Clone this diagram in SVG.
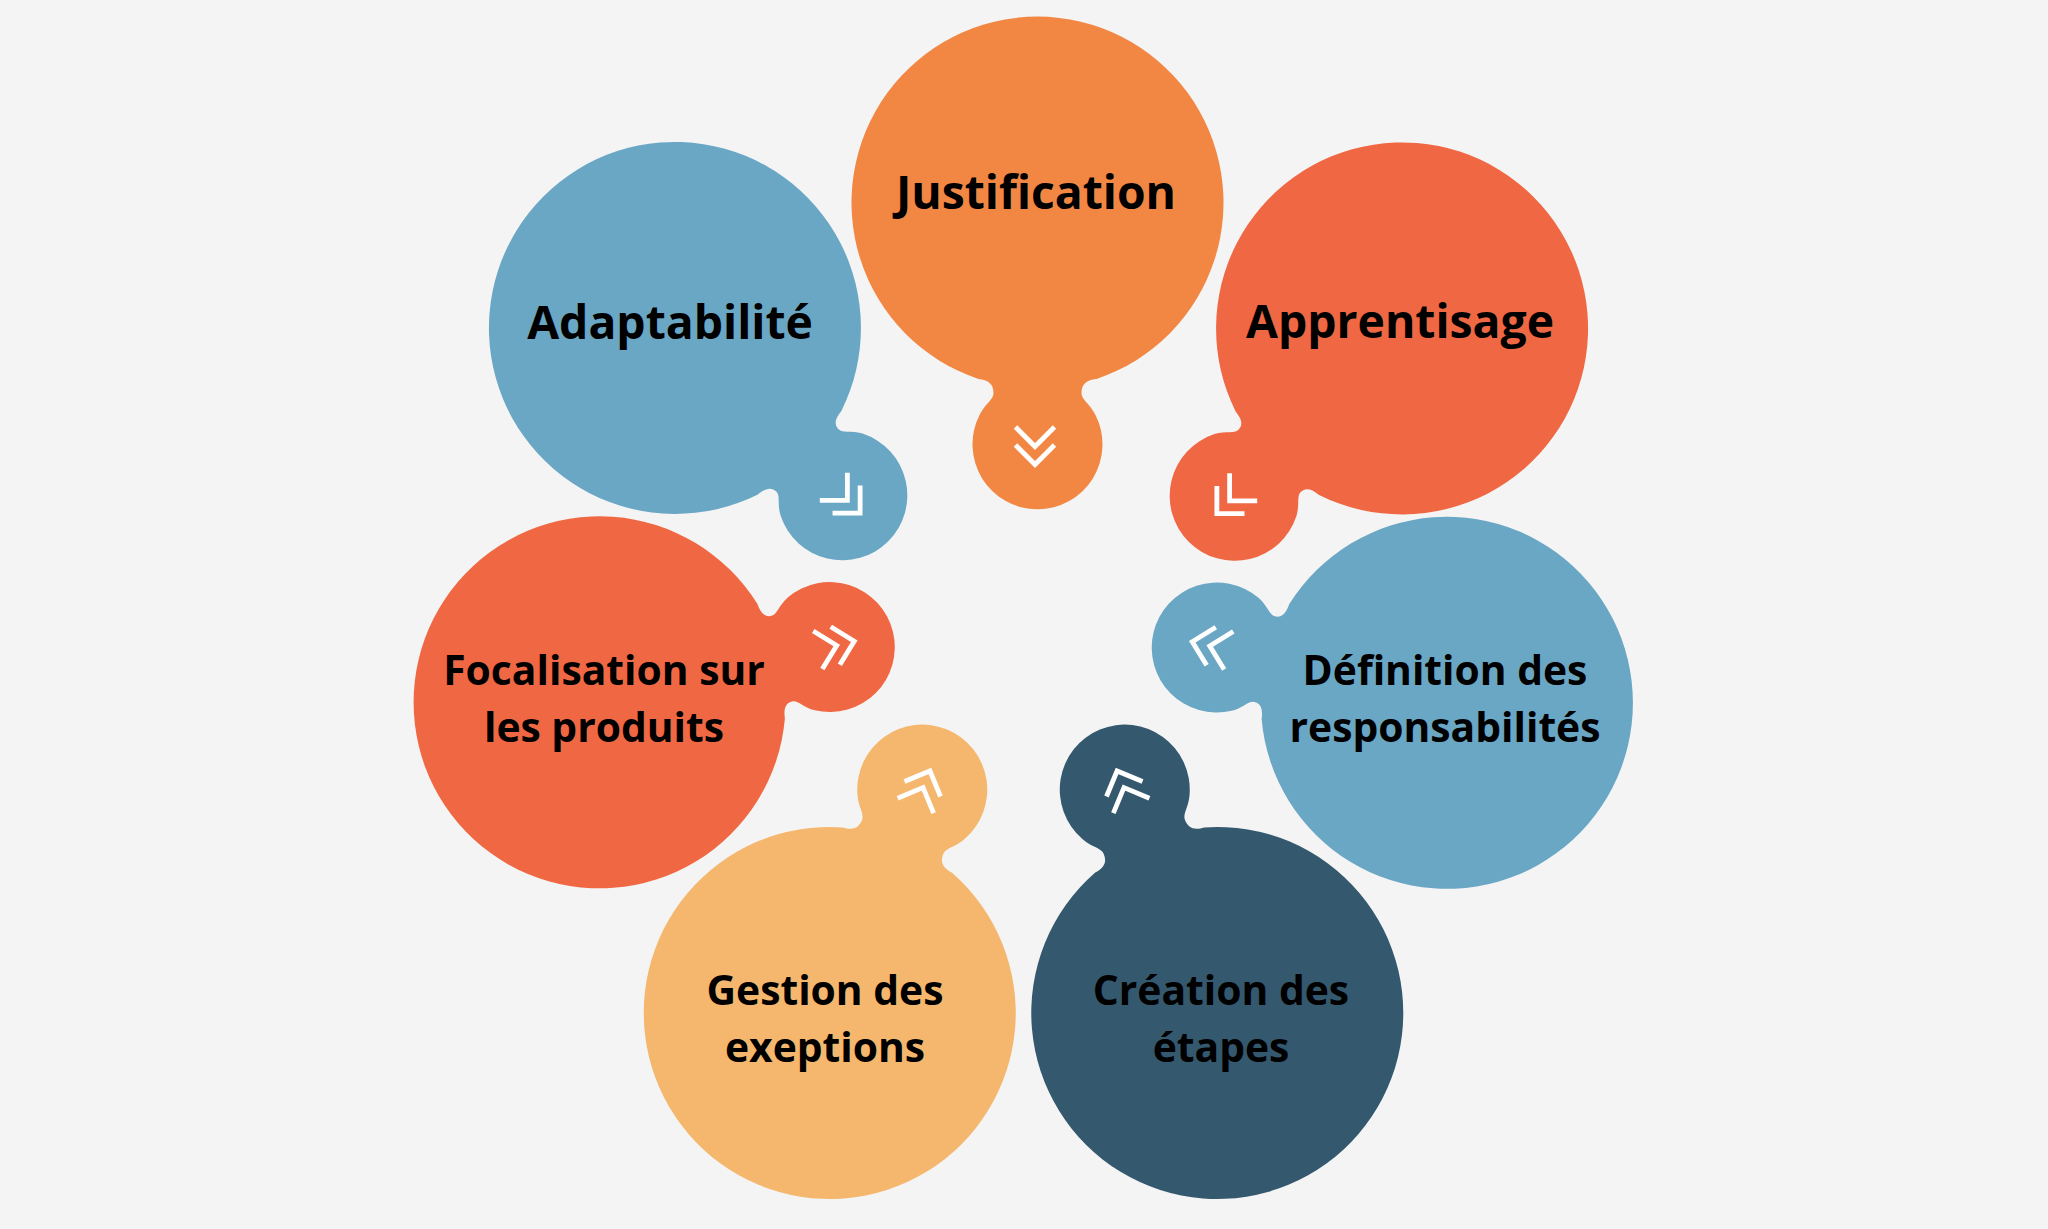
<svg xmlns="http://www.w3.org/2000/svg" xmlns:xlink="http://www.w3.org/1999/xlink" width="2048" height="1229" viewBox="0 0 2048 1229">
<style>
.lbl{font-family:"Open Sans","Noto Sans","Liberation Sans",sans-serif;font-weight:700;font-size:46.3px;fill:#000;text-anchor:middle}
.lbl2{font-size:40.8px}
.chev{fill:none;stroke:#fff;stroke-width:4.8;stroke-linecap:butt;stroke-linejoin:miter}
</style>
<defs>
<path id="blobL" d="M -59,177 A 186 186 0 1 1 59,177 C 48,178 44,183 44,191 C 44,198 52,201 58,213 A 65 65 0 1 1 -58,213 C -52,201 -44,198 -44,191 C -44,183 -48,178 -59,177 Z"/>
<path id="blobS" d="M -59,177 A 186 186 0 1 1 59,177 C 48,178 44,182 44,188 C 44,194 52,197 58,208 A 65 65 0 1 1 -58,208 C -52,197 -44,194 -44,188 C -44,182 -48,178 -59,177 Z"/>
<path id="chev" class="chev" d="M -19.5,225 L 0,244.5 L 19.5,225 M -19.5,243 L 0,262.5 L 19.5,243"/>
</defs>
<rect width="2048" height="1229" fill="#f4f4f4"/>
<g id="connectors"/>
<g id="node-justification">
<use xlink:href="#blobL" href="#blobL" fill="#f28744" transform="translate(1037.5,202)"/>
<use xlink:href="#chev" href="#chev" transform="translate(1035,202)"/>
<text class="lbl" x="1036" y="209">Justification</text>
</g>
<g id="node-adaptabilite">
<use xlink:href="#blobS" href="#blobS" fill="#6aa7c5" transform="translate(674.5,327.5) rotate(-45)"/>
<use xlink:href="#chev" href="#chev" transform="translate(674.5,327.5) rotate(-45)"/>
<text class="lbl" x="670" y="339">Adaptabilité</text>
</g>
<g id="node-apprentisage">
<use xlink:href="#blobS" href="#blobS" fill="#f06843" transform="translate(1402.5,328) rotate(45)"/>
<use xlink:href="#chev" href="#chev" transform="translate(1402.5,328) rotate(45)"/>
<text class="lbl" x="1400" y="338">Apprentisage</text>
</g>
<g id="node-focalisation">
<use xlink:href="#blobS" href="#blobS" fill="#f06843" transform="translate(599,702.5) rotate(-103.5)"/>
<use xlink:href="#chev" href="#chev" transform="translate(599,702.5) rotate(-103.5)"/>
<text class="lbl lbl2" x="604" y="685">Focalisation sur</text>
<text class="lbl lbl2" x="604" y="742">les produits</text>
</g>
<g id="node-definition">
<use xlink:href="#blobS" href="#blobS" fill="#6aa7c5" transform="translate(1447.5,703) rotate(103.5)"/>
<use xlink:href="#chev" href="#chev" transform="translate(1447.5,703) rotate(103.5)"/>
<text class="lbl lbl2" x="1445" y="685">Définition des</text>
<text class="lbl lbl2" x="1445" y="742">responsabilités</text>
</g>
<g id="node-gestion">
<use xlink:href="#blobL" href="#blobL" fill="#f4b76d" transform="translate(829.5,1013.5) rotate(-157.5)"/>
<use xlink:href="#chev" href="#chev" transform="translate(829.5,1013.5) rotate(-157.5)"/>
<text class="lbl lbl2" x="825" y="1005">Gestion des</text>
<text class="lbl lbl2" x="825" y="1062">exeptions</text>
</g>
<g id="node-creation">
<use xlink:href="#blobL" href="#blobL" fill="#34586e" transform="translate(1217.5,1013.5) rotate(157.5)"/>
<use xlink:href="#chev" href="#chev" transform="translate(1217.5,1013.5) rotate(157.5)"/>
<text class="lbl lbl2" x="1221" y="1005">Création des</text>
<text class="lbl lbl2" x="1221" y="1062">étapes</text>
</g>
</svg>
